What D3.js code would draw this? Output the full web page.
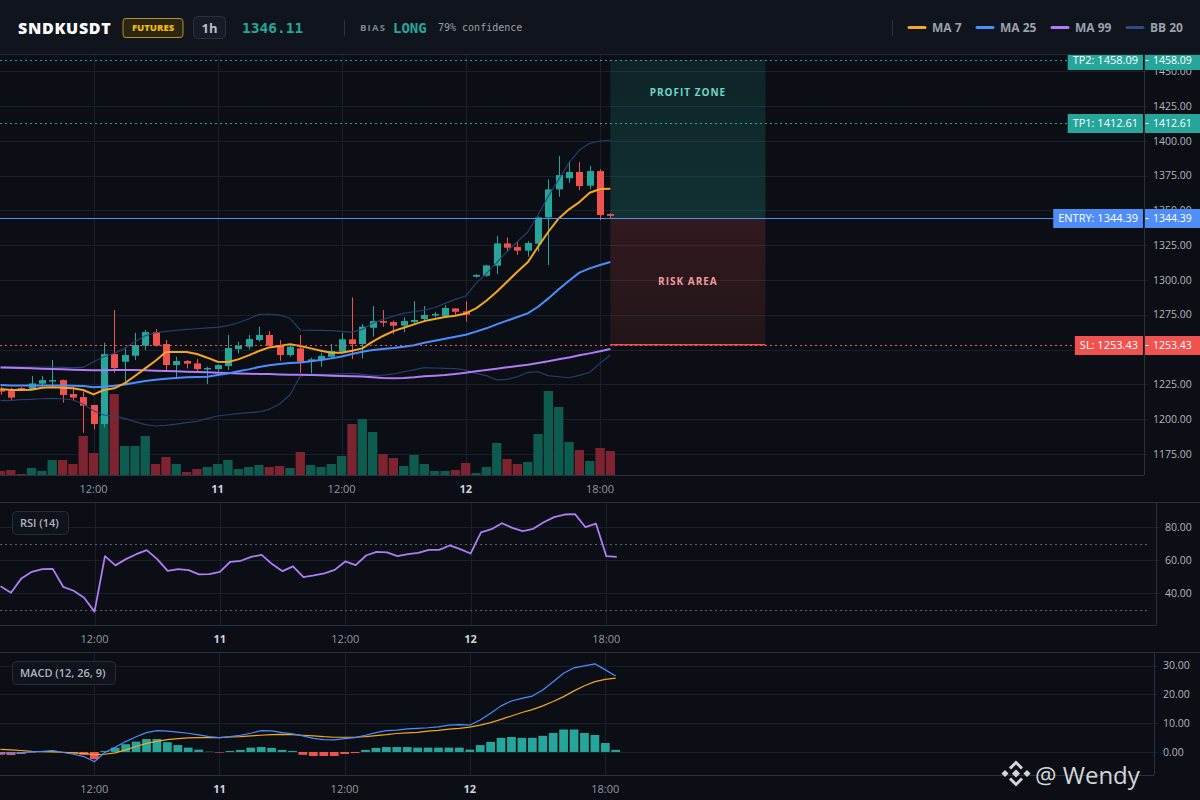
<!DOCTYPE html>
<html>
<head>
<meta charset="utf-8">
<script src="https://cdn.jsdelivr.net/npm/d3@7"></script>
<style>
  body { margin: 0; background: #0b0e14; }
  svg { display: block; font-family: 'Open Sans', sans-serif; }
</style>
</head>
<body>
<svg id="chart" width="1200" height="800"></svg>
<script>
// ---- data (1h candles, SNDKUSDT) ----
const open = [1221.7,1220.2,1222.4,1221.7,1225.5,1227.8,1228.1,1218.1,1215.9,1210.2,
  1196.5,1246.8,1241.3,1245.6,1252.8,1262.6,1254.0,1238.9,1241.8,1240.1,
  1236.0,1236.0,1238.2,1250.4,1252.1,1256.9,1260.5,1253.3,1246.1,1250.9,
  1241.3,1242.5,1244.9,1248.5,1257.4,1254.0,1265.7,1270.5,1269.8,1267.2,
  1269.8,1272.0,1275.0,1274.1,1279.6,1277.5,1302.4,1303.1,1310.3,1326.3,
  1323.7,1321.1,1326.1,1345.0,1365.1,1373.2,1377.6,1367.8,1378.3,1347.4]
const high = [1223.4,1222.6,1223.0,1231.0,1231.0,1242.5,1228.5,1223.4,1219.8,1210.2,
  1255.0,1278.4,1250.9,1262.1,1264.1,1264.8,1256.9,1244.9,1242.5,1243.2,
  1237.7,1239.6,1260.5,1255.7,1260.5,1266.5,1263.3,1256.9,1253.3,1260.5,
  1244.2,1247.8,1254.0,1262.1,1287.5,1268.4,1281.3,1278.4,1270.8,1273.2,
  1284.8,1281.3,1277.2,1282.0,1279.6,1284.7,1304.3,1311.0,1331.6,1330.6,
  1327.3,1328.0,1345.5,1372.3,1389.1,1385.5,1384.8,1381.9,1379.7,1348.0]
const low = [1217.4,1213.8,1220.5,1221.0,1223.4,1224.6,1211.9,1213.8,1190.3,1192.7,
  1194.1,1233.4,1227.0,1242.5,1249.7,1252.1,1234.1,1230.1,1236.5,1234.1,
  1225.3,1234.1,1235.3,1247.3,1250.2,1255.7,1252.1,1242.0,1244.9,1233.4,
  1232.9,1237.7,1243.7,1247.3,1243.2,1243.7,1259.3,1266.5,1261.0,1262.4,
  1267.7,1270.1,1273.2,1273.2,1274.9,1270.1,1301.7,1302.4,1304.3,1320.4,
  1318.0,1316.8,1320.4,1310.8,1359.9,1369.9,1364.6,1365.1,1343.1,1344.0]
const close = [1219.8,1215.5,1221.4,1225.7,1228.1,1228.1,1217.4,1215.5,1209.7,1196.5,
  1246.8,1236.8,1246.1,1253.3,1262.6,1252.8,1238.9,1241.8,1239.9,1236.0,
  1236.8,1238.9,1251.1,1252.8,1257.6,1260.5,1252.8,1246.1,1252.1,1241.3,
  1243.0,1245.4,1249.0,1257.4,1254.0,1266.5,1270.5,1269.3,1267.2,1270.5,
  1271.3,1274.9,1275.6,1279.9,1277.2,1275.1,1303.6,1310.5,1326.3,1323.2,
  1321.1,1326.6,1345.0,1365.1,1375.4,1377.6,1367.5,1378.3,1346.7,1346.11]
const volume = [4,5,1,7,4,15,15,11,39,22, 59,81,29,29,39,11,18,11,3,6,
  8,11,15,6,8,10,8,9,7,23, 10,8,11,19,51,56,43,21,17,9,
  20,11,4,4,5,12,2,8,32,16, 11,13,41,84,68,33,25,14,27,24]

const ma7 = [1221.7,1221.0,1221.0,1221.2,1222.6,1222.9,1222.6,1222.2,1221.0,1217.8,
  1221.0,1222.2,1225.7,1231.0,1236.5,1242.0,1248.3,1248.3,1248.3,1246.8,
  1244.2,1241.3,1241.1,1243.0,1245.9,1249.0,1251.6,1252.6,1253.8,1252.6,
  1250.9,1249.2,1247.8,1247.8,1249.2,1250.9,1255.7,1259.8,1263.3,1265.7,
  1268.1,1270.5,1272.0,1273.4,1274.4,1276.0,1279.6,1285.1,1291.6,1298.8,
  1306.0,1312.7,1323.9,1334.7,1344.3,1350.8,1356.0,1362.7,1365.4,1365.6]
const ma25 = [1224.6,1224.3,1224.3,1224.3,1224.3,1224.3,1224.3,1224.1,1223.8,1222.9,
  1223.4,1224.1,1225.0,1226.2,1227.4,1228.4,1229.1,1229.6,1230.1,1230.3,
  1230.5,1231.7,1232.9,1234.4,1235.8,1237.5,1238.7,1239.6,1240.4,1240.8,
  1241.6,1242.5,1243.7,1245.1,1246.8,1248.5,1249.7,1250.4,1251.1,1252.1,
  1253.2,1255.0,1256.4,1257.8,1259.3,1260.7,1262.9,1265.3,1268.1,1270.8,
  1273.4,1276.0,1280.8,1286.8,1293.3,1299.5,1305.3,1308.4,1310.8,1312.9]
const ma99 = [1237.2,1237.0,1236.8,1236.6,1236.3,1236.0,1235.8,1235.6,1235.3,1235.1,
  1235.1,1235.3,1235.3,1235.3,1235.1,1234.8,1234.6,1234.4,1234.1,1233.9,
  1233.7,1233.4,1233.2,1232.9,1232.7,1232.5,1232.5,1232.2,1232.0,1232.0,
  1231.7,1231.5,1231.3,1231.0,1230.8,1230.6,1230.1,1229.6,1229.4,1229.6,
  1230.1,1230.8,1231.3,1231.7,1232.5,1233.4,1234.4,1235.3,1236.3,1237.3,
  1238.2,1239.2,1240.4,1241.6,1243.0,1244.4,1245.9,1247.3,1248.8,1250.4]
const bbUpper = [1237.7,1237.7,1237.5,1237.5,1237.5,1237.5,1237.2,1237.0,1237.2,1241.3,
  1244.9,1247.3,1250.9,1255.7,1260.0,1262.1,1263.1,1263.8,1264.5,1265.0,
  1265.6,1266.0,1267.2,1269.3,1272.0,1275.3,1275.6,1274.8,1272.5,1264.1,
  1263.8,1263.8,1263.6,1263.1,1262.6,1264.5,1268.9,1271.7,1274.1,1276.0,
  1277.2,1278.4,1280.1,1283.2,1286.1,1288.5,1297.6,1304.8,1312.5,1320.4,
  1327.5,1334.5,1346.7,1360.3,1372.3,1384.3,1393.4,1398.2,1399.9,1400.6]
const bbLower = [1213.3,1213.5,1214.0,1214.3,1214.7,1215.0,1214.7,1213.8,1210.9,1206.1,
  1203.0,1202.3,1200.6,1198.2,1196.1,1195.1,1195.6,1196.5,1197.5,1198.5,
  1200.4,1202.3,1203.2,1204.0,1204.7,1205.2,1207.1,1210.9,1217.4,1231.0,
  1232.2,1232.2,1232.2,1232.5,1232.9,1232.2,1231.5,1231.7,1232.5,1234.1,
  1235.5,1237.0,1236.8,1236.5,1236.3,1235.3,1232.9,1231.3,1228.2,1228.6,
  1230.5,1233.7,1234.1,1231.3,1230.5,1229.8,1231.5,1233.7,1240.1,1246.1]

const rsi = [44.2,40.2,48.9,52.9,54.5,54.7,43.8,41.4,37.2,28.7,
  62.4,56.8,60.6,63.6,66.1,60.6,53.5,54.5,53.9,51.3,
  51.5,52.9,59.0,59.6,62.0,63.2,57.6,53.3,56.2,49.7,
  50.7,51.9,54.1,59.2,57.0,62.8,65.0,64.7,62.4,63.6,
  64.4,66.2,66.2,68.9,66.7,64.0,76.8,78.8,82.4,79.6,
  77.6,79.0,83.0,86.1,87.7,87.9,80.0,82.2,62.4,62.0]

const macd = [-0.2,-0.5,-0.2,0,0.2,0.5,-0.2,-0.8,-1.6,-3.4,
  -0.2,1.6,3.6,5.3,6.7,7.4,7.2,6.9,6.5,5.9,
  5.3,5.0,5.3,5.8,6.5,7.4,7.3,6.7,6.3,5.6,
  4.7,4.3,4.2,4.6,5.0,5.8,6.7,7.4,7.6,8.0,
  8.2,8.4,8.7,9.3,9.5,9.3,11.1,13.4,16.0,17.7,
  18.6,19.4,21.5,24.4,27.3,29.2,29.9,30.6,28.5,26.4]
const signal = [0.9,0.7,0.5,0.2,0.1,0,-0.1,-0.3,-0.6,-0.9,
  -0.8,-0.3,0.7,1.9,3.0,3.7,4.3,4.6,4.9,5.0,
  5.0,5.0,5.2,5.3,5.6,5.8,6.0,6.1,6.0,5.8,
  5.6,5.3,5.1,5.1,5.1,5.3,5.7,6.0,6.4,6.6,
  6.8,7.2,7.5,7.9,8.2,8.6,9.3,10.2,11.3,12.5,
  13.7,14.7,16.0,17.5,19.2,21.2,23.0,24.4,25.2,25.6]
const hist = [-1.0,-1.1,-0.7,-0.2,0.1,0.4,-0.1,-0.5,-1.0,-2.5,
  0.35,1.5,2.7,3.6,4.5,4.5,3.4,2.4,1.5,0.8,
  0.1,-0.2,0.35,0.7,1.5,1.7,1.4,0.7,0.35,-1.0,
  -1.4,-1.4,-1.4,-0.7,-0.4,0.7,1.4,1.7,1.7,1.7,
  1.5,1.5,1.5,1.5,1.5,0.8,2.4,3.5,4.9,5.2,
  4.9,4.9,5.6,6.6,7.8,7.8,6.6,5.9,3.1,0.7]

// time axis (candle index of each label)
const tickIdx = [9, 21, 33, 45, 58]
const tickText = ['12:00', '11', '12:00', '12', '18:00']
const tickIsDate = [false, true, false, true, false]

const priceTicks = [1175, 1200, 1225, 1250, 1275, 1300, 1325, 1350, 1375, 1400, 1425, 1450]
const rsiTicks = [40, 60, 80]
const rsiBands = [30, 70]
const macdTicks = [0, 10, 20, 30]

// trade setup
const levelNames = ['TP2', 'TP1', 'ENTRY', 'SL']
const levelValues = [1458.09, 1412.61, 1344.39, 1253.43]
const levelColors = ['#26a69a', '#26a69a', '#4f8df7', '#ef5350']
const zoneFrom = 59
const zoneTo = 74

const legendNames = ['MA 7', 'MA 25', 'MA 99', 'BB 20']
const legendColors = ['#f5a623', '#4c8dff', '#b07cf7', '#2f4a80']

// ---- layout ----
const up = '#26a69a'
const down = '#ef5350'
const gridColor = '#1a202b'
const borderColor = '#2a3140'
const axisText = '#b2b5be'

const main = { top: 55, bottom: 475, right: 1144 }
const rsiP = { top: 502, bottom: 625, right: 1156 }
const macdP = { top: 652, bottom: 775, right: 1154 }
const xDomain = [-0.05, 110.62]

const xMain = d3.scaleLinear().domain(xDomain).range([0, main.right])
const xRsi = d3.scaleLinear().domain(xDomain).range([0, rsiP.right])
const xMacd = d3.scaleLinear().domain(xDomain).range([0, macdP.right])
const yPrice = d3.scaleLinear().domain([1159.9, 1461.7]).range([main.bottom, main.top])
const yVol = d3.scaleLinear().domain([0, 420]).range([main.bottom, main.top])
const yRsi = d3.scaleLinear().domain([20.6, 95.3]).range([rsiP.bottom, rsiP.top])
const yMacd = d3.scaleLinear().domain([-8, 34.7]).range([macdP.bottom, macdP.top])

const idx = d3.range(close.length)
const step = xMain(1) - xMain(0)

const svg = d3.select('#chart')
svg.append('rect').attr('width', 1200).attr('height', 800).attr('fill', '#0b0e14')

const defs = svg.append('defs')
function clip(id, p) {
  defs.append('clipPath').attr('id', id).append('rect')
    .attr('x', 0).attr('y', p.top).attr('width', p.right).attr('height', p.bottom - p.top)
}
clip('clipMain', main)
clip('clipRsi', rsiP)
clip('clipMacd', macdP)

const gProfit = defs.append('linearGradient').attr('id', 'gProfit').attr('x1', 0).attr('x2', 0).attr('y1', 0).attr('y2', 1)
gProfit.append('stop').attr('offset', '0%').attr('stop-color', up).attr('stop-opacity', 0.14)
gProfit.append('stop').attr('offset', '100%').attr('stop-color', up).attr('stop-opacity', 0.23)
const gRisk = defs.append('linearGradient').attr('id', 'gRisk').attr('x1', 0).attr('x2', 0).attr('y1', 0).attr('y2', 1)
gRisk.append('stop').attr('offset', '0%').attr('stop-color', down).attr('stop-opacity', 0.17)
gRisk.append('stop').attr('offset', '100%').attr('stop-color', down).attr('stop-opacity', 0.1)

// price ticks that sit fully under a level tag are not drawn (hidden in the reference too)
const hiddenTick = d => levelValues.some(v => Math.abs(yPrice(v) - yPrice(d)) < 6)

// grid + frame for a panel
function panelFrame(p, xs, ys, ticks, fmt, labelX, hide) {
  const g = svg.append('g')
  g.selectAll('line.h').data(ticks).join('line')
    .attr('x1', 0).attr('x2', p.right + 4)
    .attr('y1', d => Math.round(ys(d)) + 0.5).attr('y2', d => Math.round(ys(d)) + 0.5)
    .attr('stroke', gridColor)
  g.selectAll('line.v').data(tickIdx).join('line')
    .attr('x1', d => Math.round(xs(d)) + 0.5).attr('x2', d => Math.round(xs(d)) + 0.5)
    .attr('y1', p.top).attr('y2', p.bottom)
    .attr('stroke', gridColor)
  g.append('line').attr('x1', p.right + 0.5).attr('x2', p.right + 0.5)
    .attr('y1', p.top).attr('y2', p.bottom).attr('stroke', borderColor)
  g.append('line').attr('x1', 0).attr('x2', p.right)
    .attr('y1', p.bottom + 0.5).attr('y2', p.bottom + 0.5).attr('stroke', borderColor)
  g.selectAll('text').data(ticks.filter(d => !(hide && hide(d)))).join('text')
    .attr('x', labelX).attr('y', d => ys(d)).attr('dy', '0.35em')
    .attr('fill', axisText).attr('font-size', 10.5)
    .text(fmt)
  // time labels under the panel
  g.selectAll('text.t').data(tickIdx).join('text')
    .attr('x', d => xs(d)).attr('y', p.bottom + 14).attr('dy', '0.35em')
    .attr('text-anchor', 'middle').attr('font-size', 11)
    .attr('font-weight', (d, k) => tickIsDate[k] ? 700 : 400)
    .attr('fill', (d, k) => tickIsDate[k] ? '#d1d4dc' : '#9598a1')
    .text((d, k) => tickText[k])
  return g
}

panelFrame(main, xMain, yPrice, priceTicks, d => d.toFixed(2), 1153, hiddenTick)
panelFrame(rsiP, xRsi, yRsi, rsiTicks, d => d.toFixed(2), 1165)
panelFrame(macdP, xMacd, yMacd, macdTicks, d => d.toFixed(2), 1163)
svg.append('line').attr('x1', 0).attr('x2', 1200).attr('y1', rsiP.top + 0.5).attr('y2', rsiP.top + 0.5).attr('stroke', borderColor)
svg.append('line').attr('x1', 0).attr('x2', 1200).attr('y1', macdP.top + 0.5).attr('y2', macdP.top + 0.5).attr('stroke', borderColor)

// ---- main panel ----
const gMain = svg.append('g').attr('clip-path', 'url(#clipMain)')

gMain.selectAll('rect.vol').data(idx).join('rect')
  .attr('x', i => xMain(i) - step * 0.45).attr('width', step * 0.9)
  .attr('y', i => yVol(volume[i])).attr('height', i => yVol(0) - yVol(volume[i]))
  .attr('fill', i => close[i] >= open[i] ? '#0e5b50' : '#7e2430')

gMain.selectAll('line.wick').data(idx).join('line')
  .attr('x1', i => Math.round(xMain(i)) + 0.5).attr('x2', i => Math.round(xMain(i)) + 0.5)
  .attr('y1', i => yPrice(high[i])).attr('y2', i => yPrice(low[i]))
  .attr('stroke', i => close[i] >= open[i] ? up : down)

gMain.selectAll('rect.body').data(idx).join('rect')
  .attr('x', i => Math.round(xMain(i)) + 0.5 - step * 0.34).attr('width', step * 0.68)
  .attr('y', i => yPrice(Math.max(open[i], close[i])))
  .attr('height', i => Math.max(1.5, Math.abs(yPrice(open[i]) - yPrice(close[i]))))
  .attr('fill', i => close[i] >= open[i] ? up : down)

function seriesLine(g, xs, ys, values, color, width, opacity) {
  g.append('path').datum(idx)
    .attr('d', d3.line().x(i => xs(i)).y(i => ys(values[i])))
    .attr('fill', 'none').attr('stroke', color).attr('stroke-width', width)
    .attr('stroke-opacity', opacity || 1).attr('stroke-linejoin', 'round')
}
seriesLine(gMain, xMain, yPrice, bbUpper, '#2b4272', 1.2, 0.9)
seriesLine(gMain, xMain, yPrice, bbLower, '#2b4272', 1.2, 0.9)
seriesLine(gMain, xMain, yPrice, ma99, '#b07cf7', 2)
seriesLine(gMain, xMain, yPrice, ma25, '#4c8dff', 2)
seriesLine(gMain, xMain, yPrice, ma7, '#f5a623', 2)

// profit / risk zones
const zx0 = xMain(zoneFrom)
const zx1 = xMain(zoneTo)
const yTp2 = yPrice(levelValues[0])
const yEntry = yPrice(levelValues[2])
const ySl = yPrice(levelValues[3])
gMain.append('rect').attr('x', zx0).attr('width', zx1 - zx0)
  .attr('y', yTp2).attr('height', yEntry - yTp2).attr('fill', 'url(#gProfit)')
gMain.append('rect').attr('x', zx0).attr('width', zx1 - zx0)
  .attr('y', yEntry).attr('height', ySl - yEntry).attr('fill', 'url(#gRisk)')
gMain.append('line').attr('x1', zx0).attr('x2', zx1).attr('y1', ySl).attr('y2', ySl)
  .attr('stroke', down).attr('stroke-width', 1.5)
gMain.append('text').attr('x', (zx0 + zx1) / 2).attr('y', yTp2 + 32).attr('dy', '0.35em')
  .attr('text-anchor', 'middle').attr('font-size', 10).attr('font-weight', 700)
  .attr('letter-spacing', 1).attr('fill', '#6fd6c8').text('PROFIT ZONE')
gMain.append('text').attr('x', (zx0 + zx1) / 2).attr('y', (yEntry + ySl) / 2).attr('dy', '0.35em')
  .attr('text-anchor', 'middle').attr('font-size', 10).attr('font-weight', 700)
  .attr('letter-spacing', 1).attr('fill', '#f49b9b').text('RISK AREA')

// level lines + labels
const gLevels = svg.append('g')
levelValues.forEach((v, k) => {
  const y = Math.round(yPrice(v)) + 0.5
  const txt = gLevels.append('text').attr('font-size', 11).attr('fill', '#fff')
    .attr('y', y).attr('dy', '0.35em').text(`${levelNames[k]}: ${v.toFixed(2)}`)
  const w = txt.node().getComputedTextLength() + 10
  const bx = main.right - 1 - w
  txt.attr('x', bx + 5)
  gLevels.insert('line', 'text').attr('x1', 0).attr('x2', bx).attr('y1', y).attr('y2', y)
    .attr('stroke', levelColors[k]).attr('stroke-width', 1)
    .attr('stroke-dasharray', levelNames[k] === 'ENTRY' ? null : '2,3')
  gLevels.insert('rect', 'text').attr('x', bx).attr('y', y - 9.5).attr('width', w).attr('height', 19)
    .attr('fill', levelColors[k])
  gLevels.append('rect').attr('x', main.right + 1).attr('y', y - 9.5).attr('width', 1200 - main.right - 1).attr('height', 19)
    .attr('fill', levelColors[k])
  gLevels.append('line').attr('x1', main.right + 1.5).attr('x2', main.right + 4.5).attr('y1', y).attr('y2', y)
    .attr('stroke', '#fff')
  gLevels.append('text').attr('x', 1153).attr('y', y).attr('dy', '0.35em')
    .attr('font-size', 10.5).attr('fill', '#fff').text(v.toFixed(2))
})

// ---- RSI panel ----
const gRsi = svg.append('g').attr('clip-path', 'url(#clipRsi)')
gRsi.selectAll('line.band').data(rsiBands).join('line')
  .attr('x1', 0).attr('x2', rsiP.right - 6)
  .attr('y1', d => Math.round(yRsi(d)) + 0.5).attr('y2', d => Math.round(yRsi(d)) + 0.5)
  .attr('stroke', '#5a606c').attr('stroke-dasharray', '2,3')
seriesLine(gRsi, xRsi, yRsi, rsi, '#b07cf7', 1.8)

// ---- MACD panel ----
const gMacd = svg.append('g').attr('clip-path', 'url(#clipMacd)')
const stepM = xMacd(1) - xMacd(0)
gMacd.selectAll('rect.h').data(idx).join('rect')
  .attr('x', i => xMacd(i) - stepM * 0.42).attr('width', stepM * 0.84)
  .attr('y', i => yMacd(Math.max(0, hist[i])))
  .attr('height', i => Math.abs(yMacd(hist[i]) - yMacd(0)))
  .attr('fill', i => hist[i] >= 0 ? up : down)
seriesLine(gMacd, xMacd, yMacd, signal, '#f5a623', 1.2)
seriesLine(gMacd, xMacd, yMacd, macd, '#4c8dff', 1.2)

// indicator tags
function tag(x, y, w, label) {
  svg.append('rect').attr('x', x + 0.5).attr('y', y + 0.5).attr('width', w).attr('height', 23)
    .attr('rx', 4).attr('fill', '#0f131b').attr('stroke', '#262c38')
  svg.append('text').attr('x', x + 8).attr('y', y + 12).attr('dy', '0.35em')
    .attr('font-size', 11).attr('font-weight', 600).attr('fill', axisText).text(label)
}
tag(12, 511, 56, 'RSI (14)')
tag(12, 661, 103, 'MACD (12, 26, 9)')

// ---- header ----
const head = svg.append('g')
head.append('rect').attr('width', 1200).attr('height', main.top).attr('fill', '#10141c')
head.append('line').attr('x1', 0).attr('x2', 1200).attr('y1', main.top - 0.5).attr('y2', main.top - 0.5)
  .attr('stroke', '#232a36')
head.append('text').attr('x', 18).attr('y', 28).attr('dy', '0.35em')
  .attr('font-size', 16).attr('font-weight', 800).attr('letter-spacing', 0.7).attr('fill', '#fff').text('SNDKUSDT')
head.append('rect').attr('x', 123).attr('y', 18.5).attr('width', 60).attr('height', 19).attr('rx', 3)
  .attr('fill', '#2b2513').attr('stroke', '#b8901a')
head.append('text').attr('x', 153).attr('y', 28).attr('dy', '0.35em').attr('text-anchor', 'middle')
  .attr('font-size', 9.5).attr('font-weight', 800).attr('fill', '#f0b90b').text('FUTURES')
head.append('rect').attr('x', 193.5).attr('y', 16.5).attr('width', 32).attr('height', 22).attr('rx', 4)
  .attr('fill', '#161b25').attr('stroke', '#2a3140')
head.append('text').attr('x', 209.5).attr('y', 28).attr('dy', '0.35em').attr('text-anchor', 'middle')
  .attr('font-size', 13).attr('font-weight', 700).attr('fill', '#b8bcc6').text('1h')
head.append('text').attr('x', 242).attr('y', 28).attr('dy', '0.35em')
  .attr('font-family', 'DejaVu Sans Mono, monospace').attr('font-size', 14.5).attr('font-weight', 700)
  .attr('fill', up).text(close[close.length - 1].toFixed(2))
head.append('line').attr('x1', 344.5).attr('x2', 344.5).attr('y1', 20).attr('y2', 36).attr('stroke', '#2a3140')
head.append('text').attr('x', 360).attr('y', 28).attr('dy', '0.35em')
  .attr('font-size', 9.5).attr('font-weight', 700).attr('letter-spacing', 1.2).attr('fill', '#7d8390').text('BIAS')
head.append('text').attr('x', 393).attr('y', 28).attr('dy', '0.35em')
  .attr('font-family', 'DejaVu Sans Mono, monospace').attr('font-size', 14).attr('font-weight', 700)
  .attr('fill', up).text('LONG')
head.append('text').attr('x', 438).attr('y', 27).attr('dy', '0.35em')
  .attr('font-family', 'DejaVu Sans Mono, monospace').attr('font-size', 10).attr('fill', '#9aa0aa')
  .text('79% confidence')

head.append('line').attr('x1', 892.5).attr('x2', 892.5).attr('y1', 20).attr('y2', 36).attr('stroke', '#2a3140')
const legendX = [909, 977, 1052, 1127]
legendNames.forEach((name, k) => {
  head.append('line').attr('x1', legendX[k]).attr('x2', legendX[k] + 16).attr('y1', 27.5).attr('y2', 27.5)
    .attr('stroke', legendColors[k]).attr('stroke-width', 3).attr('stroke-linecap', 'round')
  head.append('text').attr('x', legendX[k] + 23).attr('y', 28).attr('dy', '0.35em')
    .attr('font-size', 12).attr('font-weight', 700).attr('fill', '#9aa1ad').text(name)
})

// ---- watermark ----
const wm = svg.append('g').attr('transform', 'translate(1016,773.5)')
  .attr('fill', 'none').attr('stroke', '#d3d6db').attr('stroke-width', 3).attr('stroke-linejoin', 'miter')
wm.append('path').attr('d', 'M-6,-5 L0,-11 L6,-5')
wm.append('path').attr('d', 'M-6,5 L0,11 L6,5')
wm.append('path').attr('d', 'M0,-3 L3,0 L0,3 L-3,0 Z').attr('fill', '#d3d6db').attr('stroke-width', 1.5)
wm.append('path').attr('d', 'M-11,-2.5 L-8.5,0 L-11,2.5 L-13.5,0 Z').attr('fill', '#d3d6db').attr('stroke-width', 1.5)
wm.append('path').attr('d', 'M11,-2.5 L13.5,0 L11,2.5 L8.5,0 Z').attr('fill', '#d3d6db').attr('stroke-width', 1.5)
svg.append('text').attr('x', 1035).attr('y', 784).attr('font-size', 24)
  .attr('fill', '#d3d6db').text('@ Wendy')
</script>
</body>
</html>
